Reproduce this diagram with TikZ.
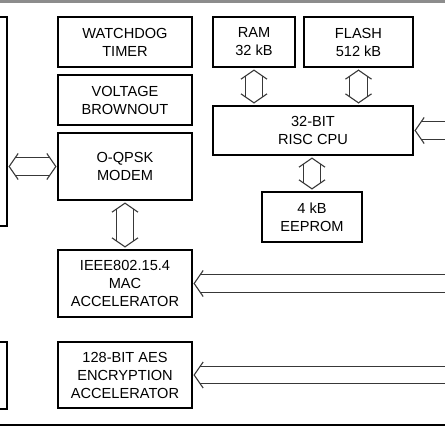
\documentclass[tikz,border=0pt]{standalone}
\usepackage{fontspec}
\setmainfont{Liberation Sans}
\usetikzlibrary{calc}
\newcommand\arrhead[2]{% tip at #1, pointing away from #2
  \draw[arr] ($(#1)!9pt!(#2)!13pt!90:(#2)$) -- (#1) -- ($(#1)!9pt!(#2)!13pt!-90:(#2)$);}
\newcommand\arrshaft[4]{% from #1 to #2, start offset #3, end offset #4
  \draw[arr] ($(#1)!#3!(#2)!8.8pt!90:(#2)$) -- ($(#2)!#4!(#1)!8.8pt!-90:(#1)$);
  \draw[arr] ($(#1)!#3!(#2)!8.8pt!-90:(#2)$) -- ($(#2)!#4!(#1)!8.8pt!90:(#1)$);}
\newcommand\dblarrow[2]{\arrhead{#1}{#2}\arrhead{#2}{#1}\arrshaft{#1}{#2}{6.1pt}{6.1pt}}
\newcommand\onearrow[2]{\arrhead{#1}{#2}\arrshaft{#1}{#2}{6.1pt}{0pt}}
\begin{document}
\begin{tikzpicture}[x=1pt,y=-1pt,
  box/.style={draw, line width=2.3pt, align=center, inner sep=0pt,
    font=\fontsize{14.6}{18}\selectfont},
  arr/.style={line width=1.1pt, draw=black!78}]
\useasboundingbox (0,0) rectangle (445,445);
\clip (0,0) rectangle (445,445);
\fill[black!45] (0,0) rectangle (445,3);
% left boxes (partly outside)
\node[box, minimum width=27pt, minimum height=209pt] (left1) at (-6.5,121.5) {};
\node[box, minimum width=27pt, minimum height=67pt] (left2) at (-6.5,375.5) {};
% middle column
\node[box, minimum width=134pt, minimum height=50pt] (wd) at (125,42) {WATCHDOG\\TIMER};
\node[box, minimum width=134pt, minimum height=50pt] (vb) at (125,100) {VOLTAGE\\BROWNOUT};
\node[box, minimum width=134pt, minimum height=67pt] (modem) at (125,166.5) {O-QPSK\\MODEM};
\node[box, minimum width=134pt, minimum height=67pt] (ieee) at (125,283.5) {IEEE802.15.4\\MAC\\ACCELERATOR};
\node[box, minimum width=134pt, minimum height=66pt] (aes) at (125,375) {128-BIT AES\\ENCRYPTION\\ACCELERATOR};
% right column
\node[box, minimum width=82pt, minimum height=50pt] (ram) at (254,42) {RAM\\32 kB};
\node[box, minimum width=109pt, minimum height=50pt] (flash) at (358.5,42) {FLASH\\512 kB};
\node[box, minimum width=200pt, minimum height=49pt] (cpu) at (313,130.5) {32-BIT\\RISC CPU};
\node[box, minimum width=100pt, minimum height=50pt] (eeprom) at (312,217) {4 kB\\EEPROM};
% bottom line
\coordinate (bl) at (0,425);
\coordinate (br) at (445,425);
\draw[line width=1.8pt] (bl) -- (br);
% right edge reference
\coordinate (rx) at (447,0);
% connectors
\coordinate (m1) at (left1.east |- modem.west);
\coordinate (m1t) at ($(m1)+(1,0)$);
\coordinate (m2) at ($(modem.west)+(-1,0)$);
\dblarrow{m1t}{m2}
\coordinate (v1) at ($(modem.south)+(0,2)$);
\coordinate (v2) at ($(ieee.north)+(0,-2)$);
\dblarrow{v1}{v2}
\coordinate (r1) at ($(ram.south)+(0,2)$);
\coordinate (r2) at ($(ram.south |- cpu.north)+(0,-2)$);
\dblarrow{r1}{r2}
\coordinate (f1) at ($(flash.south)+(0,2)$);
\coordinate (f2) at ($(flash.south |- cpu.north)+(0,-2)$);
\dblarrow{f1}{f2}
\coordinate (e1) at ($(eeprom.north |- cpu.south)+(0,2)$);
\coordinate (e2) at ($(eeprom.north)+(0,-2)$);
\dblarrow{e1}{e2}
\coordinate (c1) at ($(cpu.east)+(1,0)$);
\coordinate (c2) at (cpu.east -| rx);
\onearrow{c1}{c2}
\coordinate (i1) at ($(ieee.east)+(1,0)$);
\coordinate (i2) at (ieee.east -| rx);
\onearrow{i1}{i2}
\coordinate (a1) at ($(aes.east)+(1,0)$);
\coordinate (a2) at (aes.east -| rx);
\onearrow{a1}{a2}
\end{tikzpicture}
\end{document}
